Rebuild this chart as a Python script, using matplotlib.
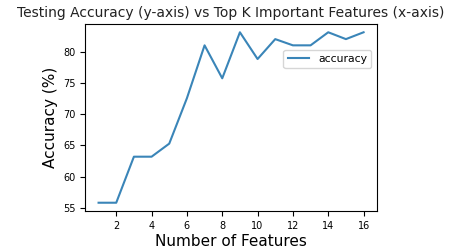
import matplotlib.pyplot as plt

n_features = list(range(1, 17))
accuracy = [55.8, 55.8, 63.2, 63.2, 65.3, 72.6, 81.1, 75.8, 83.2, 78.9,
            82.1, 81.1, 81.1, 83.2, 82.1, 83.2]

fig = plt.figure(figsize=(4.74, 2.5), dpi=100)
ax = fig.add_axes([0.18, 0.155, 0.615, 0.75])
ax.plot(n_features, accuracy, color='#3a85b8', label='accuracy')
ax.set_title('Testing Accuracy (y-axis) vs Top K Important Features (x-axis)', fontsize=10.0, color='#222222', pad=5)
ax.set_xlabel('Number of Features', fontsize=11, labelpad=2)
ax.set_ylabel('Accuracy (%)', fontsize=11)
ax.set_xticks([2, 4, 6, 8, 10, 12, 14, 16])
ax.tick_params(labelsize=7)
ax.legend(loc='upper right', bbox_to_anchor=(1.0, 0.89), fontsize=7.8)
fig.savefig('out.png', dpi=100)
